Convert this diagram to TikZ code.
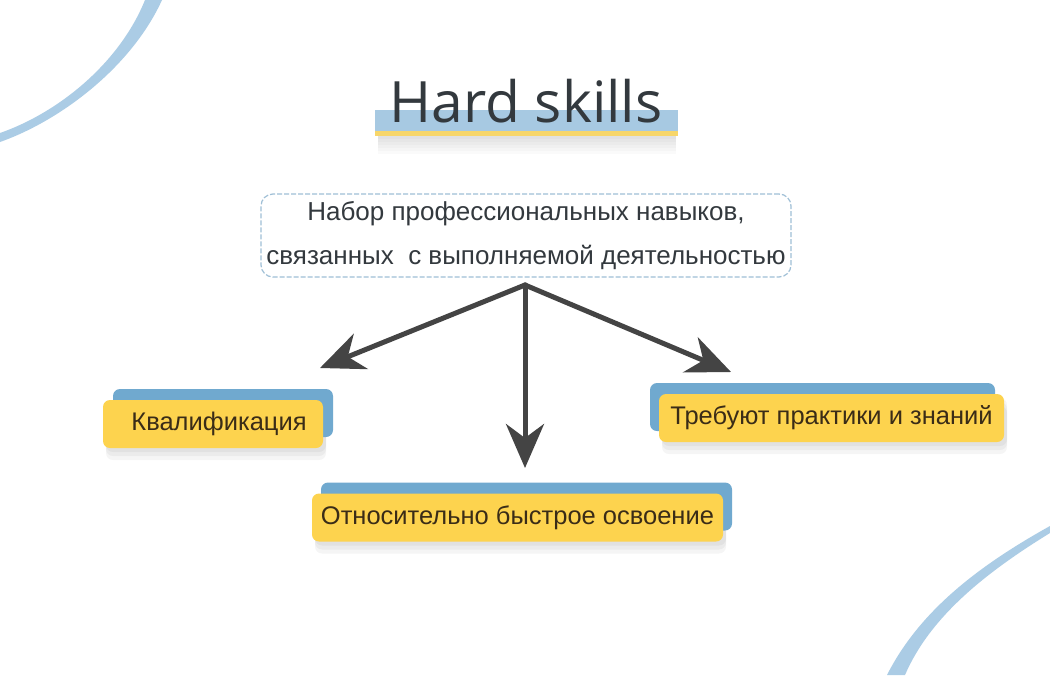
\documentclass[tikz,border=0pt]{standalone}
\usepackage{fontspec}
\setmainfont{Liberation Sans}
\newfontfamily\titlefont{Open Sans}
\newfontfamily\bodyfont{Liberation Sans}
\usetikzlibrary{arrows.meta,shadows}
\definecolor{cardyellow}{HTML}{FDD34E}
\definecolor{cardblue}{HTML}{70A9CF}
\definecolor{cardtext}{HTML}{3A2C17}
\definecolor{barblue}{HTML}{A7C9E2}
\definecolor{baryellow}{HTML}{F7D66A}
\definecolor{swoosh}{HTML}{ABCCE5}
\definecolor{dashc}{HTML}{9FBFD6}
\definecolor{arrowc}{HTML}{444444}
\definecolor{titlec}{HTML}{33393E}
\tikzset{
  softshadow/.style={
    general shadow={fill=black, opacity=0.04, shadow xshift=3pt, shadow yshift=-4pt},
    general shadow={fill=black, opacity=0.04, shadow xshift=3pt, shadow yshift=-8pt},
    general shadow={fill=black, opacity=0.04, shadow xshift=3pt, shadow yshift=-12pt}},
  card/.style={fill=cardyellow, rounded corners=7pt, text=cardtext, inner sep=0pt,
    font=\bodyfont\fontsize{25.5}{30}\selectfont, minimum height=48pt, softshadow,
    general shadow={fill=cardblue, shadow xshift=#1, shadow yshift=11pt}},
  card/.default=9pt,
  flow/.style={draw=arrowc, line width=5pt, line cap=round,
    -{Stealth[length=44pt,width=38pt,inset=14pt]}},
  swooshfill/.style={fill=swoosh, draw=none}
}
\begin{document}
\begin{tikzpicture}[x=1pt,y=-1pt]
\useasboundingbox[fill=white] (0,0) rectangle (1050,675);
% decorative swooshes
\path[swooshfill] (0,133) .. controls (60,112) and (120,62) .. (145,0) -- (162,0)
  .. controls (132,66) and (62,120) .. (0,142) -- cycle;
\path[swooshfill] (887,675) .. controls (920,610) and (980,565) .. (1050,526) -- (1050,533)
  .. controls (985,573) and (930,617) .. (905,675) -- cycle;
% title bars
\foreach \k in {1,...,6} {
  \fill[black, opacity=0.018] (378,136) rectangle (676,{136+3*\k});
}
\fill[barblue] (375,110) rectangle (678,131);
\fill[baryellow] (375,131) rectangle (678,136);
\node[font=\titlefont\fontsize{57}{60}\selectfont, text=titlec, anchor=base, inner sep=0pt] (title) at (526,122) {Hard skills};
% definition box
\node[draw=dashc, line width=1.2pt, dash pattern=on 5pt off 2pt, rounded corners=12pt,
  minimum width=530pt, minimum height=83pt, inner sep=0pt, align=center,
  font=\bodyfont\fontsize{26}{44}\selectfont, text=titlec] (def) at (526,235.5)
  {Набор профессиональных навыков,\\связанных\ \ с выполняемой деятельностью};
% cards
\node[card=10pt, minimum width=220pt] (q) at (213,424) {\hspace*{12pt}Квалификация};
\node[card=-9pt, minimum width=345pt] (t) at (831.5,418) {Требуют практики и знаний};
\node[card=9pt, minimum width=411pt] (o) at (517.5,517.5) {Относительно быстрое освоение};
% arrows
\coordinate (src) at (525,285);
\coordinate (tq) at (320,368);
\coordinate (to) at (525,468);
\coordinate (tt) at (731,372);
\draw[flow] (src) -- (tq);
\draw[flow] (src) -- (to);
\draw[flow] (src) -- (tt);
\end{tikzpicture}
\end{document}
